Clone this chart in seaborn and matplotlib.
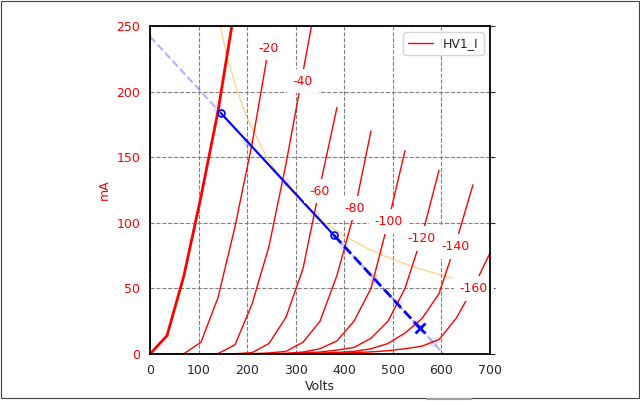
import numpy as np
import pandas as pd
import matplotlib
matplotlib.use("Agg")
import matplotlib.pyplot as plt
from matplotlib.patches import Rectangle
from matplotlib.lines import Line2D
import seaborn as sns

# ---------------- data ----------------
volts = [0, 35, 70, 105, 140, 175, 210, 245, 280, 315, 350, 385, 420, 455, 490, 525, 560, 595, 630, 665, 700]

grid_labels = ["0", "-20", "-40", "-60", "-80", "-100", "-120", "-140", "-160"]
curve_g0 = [0, 14, 60, 120, 185, 265]
curve_g20 = [0, 0, 0.3, 9, 43, 97, 160, 235]
curve_g40 = [0, 0, 0, 0, 0.3, 7, 38, 82, 145, 215, 285]
curve_g60 = [0, 0, 0, 0, 0, 0.2, 1, 8, 28, 65, 128, 188]
curve_g80 = [0, 0, 0, 0, 0, 0, 0.2, 0.8, 2, 9, 25, 60, 107, 170]
curve_g100 = [0, 0, 0, 0, 0, 0, 0, 0.2, 0.5, 1.5, 4, 10, 25, 50, 100, 155]
curve_g120 = [0, 0, 0, 0, 0, 0, 0, 0, 0.3, 0.8, 1.5, 3, 5, 12, 25, 50, 90, 140]
curve_g140 = [0, 0, 0, 0, 0, 0, 0, 0, 0, 0.3, 0.7, 1.2, 2, 4, 8, 16, 27, 46, 85, 129]
curve_g160 = [0, 0, 0, 0, 0, 0, 0, 0, 0, 0, 0.3, 0.6, 1, 1.6, 2.5, 4, 6, 11, 27, 50, 77]
curves = [curve_g0, curve_g20, curve_g40, curve_g60, curve_g80,
          curve_g100, curve_g120, curve_g140, curve_g160]

label_v = [244, 315, 350, 422, 492, 560, 630, 667]
label_i = [233, 208, 124, 111, 101, 88, 82, 50]

# plate dissipation limit
pd_v = [140, 160, 180, 200, 240, 280, 320, 360, 400, 450, 500, 550, 600, 670]
pd_i = [257, 225, 200, 180, 150, 128.6, 112.5, 100, 90, 80, 72, 65.5, 60, 53.7]

# load line
load_v = [0, 605]
load_i = [242, 0]
swing_v = [146, 379]
swing_i = [183.6, 90.4]
ext_v = [379, 556]
ext_i = [90.4, 19.6]
cross_v = [140, 202, 278, 340, 397, 459, 508, 548, 582]
cross_i = [186, 161, 131, 106, 83, 58, 39, 23, 9]

x_ticks = [0, 100, 200, 300, 400, 500, 600, 700]
y_ticks = [0, 50, 100, 150, 200, 250]

# ---------------- plot ----------------
sns.set_style("white")
plt.rcParams["font.family"] = ["DejaVu Sans"]
plt.rcParams["font.size"] = 9

fig = plt.figure(figsize=(6.4, 4.01), dpi=100)
ax = fig.add_axes([150 / 640, 1 - 354 / 401, 340 / 640, 328 / 401])

for k, (lab, cur) in enumerate(zip(grid_labels, curves)):
    df = pd.DataFrame({"Volts": volts[:len(cur)], "mA": cur})
    sns.lineplot(data=df, x="Volts", y="mA", ax=ax, color="red",
                 lw=2.0 if k == 0 else 1.0, sort=False, estimator=None,
                 label="HV1_I" if k == 1 else None, zorder=2)

sns.lineplot(x=pd_v, y=pd_i, ax=ax, color="orange", alpha=0.55, lw=0.8,
             sort=False, estimator=None, zorder=1.8)

ax.plot(load_v, load_i, color="blue", alpha=0.3, ls="--", lw=1.5, zorder=1.9)
ax.plot(cross_v, cross_i, "o", color="blue", alpha=0.1, ms=7, mew=0, zorder=1.9)
ax.plot(swing_v, swing_i, color="blue", lw=1.5, zorder=2.1)
ax.plot(ext_v, ext_i, color="blue", lw=2, ls="--", zorder=2.1)
ax.plot(swing_v, swing_i, "o", mfc="none", mec="blue", ms=5, mew=1.2, zorder=2.2)
ax.plot([ext_v[1]], [ext_i[1]], "x", color="blue", ms=7, mew=2, zorder=2.2)

for lab, lv, li in zip(grid_labels[1:], label_v, label_i):
    ax.text(lv, li, lab, color="red", fontsize=9, ha="center", va="center",
            zorder=2.3, bbox=dict(boxstyle="square,pad=0.45", fc="white", ec="none"))

ax.set_xlim(0, 700)
ax.set_ylim(0, 250)
ax.set_xticks(x_ticks)
ax.set_yticks(y_ticks)
ax.set_axisbelow(True)
ax.grid(True, ls="--", color="gray", lw=0.8)
ax.set_xlabel("Volts", fontsize=9, labelpad=2)
ax.set_ylabel("mA", fontsize=9, color="red")
ax.tick_params(axis="y", labelcolor="red", right=True, labelsize=9)
ax.tick_params(axis="x", labelsize=9)
for s in ax.spines.values():
    s.set_linewidth(1.3)
    s.set_color("black")
    s.set_zorder(3)

leg = ax.legend(loc="upper right", fontsize=9)
leg.set_zorder(4)

fig.patches.append(Rectangle((0.5 / 640, 1 - 397.5 / 401), 638 / 640, 396.5 / 401,
                             transform=fig.transFigure, fill=False,
                             ec="#444444", lw=0.8))
fig.lines.append(Line2D([427 / 640, 471 / 640], [1 - 399.3 / 401, 1 - 399.3 / 401],
                        transform=fig.transFigure, color="#a0a0a0", lw=1.5))

fig.savefig("out.png", dpi=100)
